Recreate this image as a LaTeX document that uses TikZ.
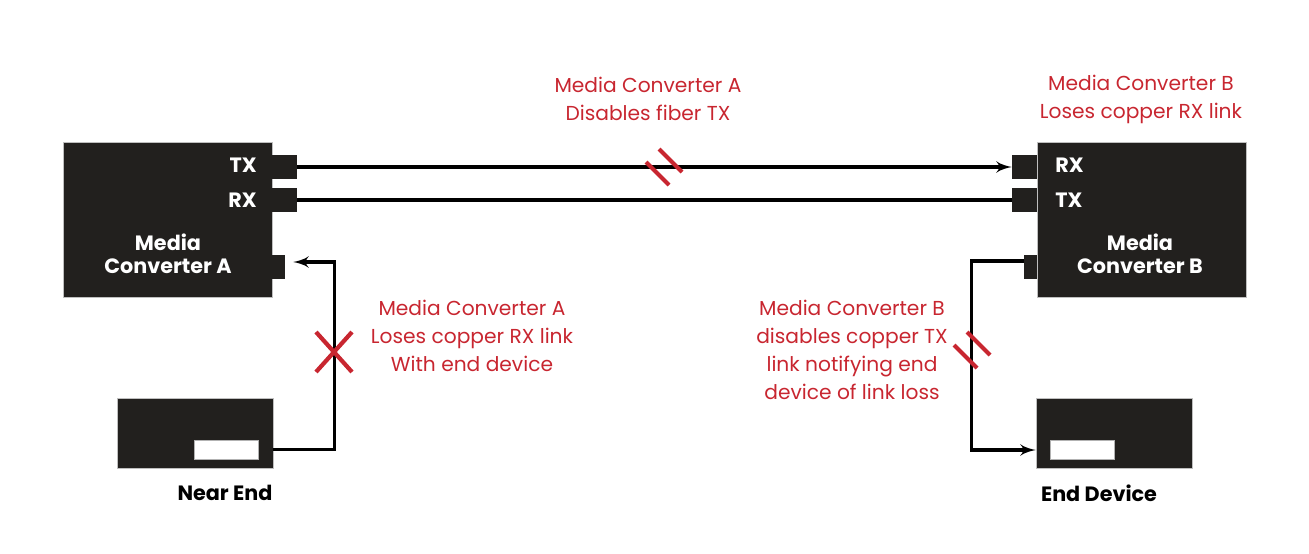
\documentclass[tikz,border=0pt]{standalone}
\usepackage{fontspec}
\setmainfont{Poppins}
\usetikzlibrary{arrows,calc,positioning}
\definecolor{alarm}{RGB}{200,38,48}
\definecolor{boxgray}{RGB}{34,32,30}
\tikzstyle{line} = [draw, line width=2pt, -latex']
\tikzstyle{wire} = [draw, line width=2pt]
\tikzstyle{slash} = [draw=alarm, line width=2.4pt]
\tikzstyle{unit} = [draw=gray!50, fill=boxgray, rectangle, inner sep=0pt, minimum width=4.18cm, minimum height=3.1cm]
\tikzstyle{device} = [draw=gray!50, fill=boxgray, rectangle, inner sep=0pt, minimum width=3.12cm, minimum height=1.4cm]
\tikzstyle{slot} = [draw=gray!60, fill=white, rectangle, inner sep=0pt, minimum width=1.28cm, minimum height=0.38cm]
\tikzstyle{port} = [fill=boxgray, rectangle, inner sep=0pt, minimum width=0.5cm, minimum height=0.48cm]
\tikzstyle{jack} = [fill=boxgray, rectangle, inner sep=0pt, minimum width=0.26cm, minimum height=0.48cm]
\tikzstyle{tag} = [text=white, inner sep=0pt, font=\bfseries\fontsize{11.8}{13}\selectfont]
\tikzstyle{unitname} = [text=white, align=center, inner sep=0pt, font=\bfseries\fontsize{11.8}{13}\selectfont]
\tikzstyle{caption} = [inner sep=0pt, font=\bfseries\fontsize{11.8}{13}\selectfont]
\tikzstyle{note} = [text=alarm, align=center, inner sep=0pt, font=\fontsize{11.5}{15.9}\selectfont]
\begin{document}
\begin{tikzpicture}[x=0.02cm, y=-0.02cm]
        \useasboundingbox (0,0) rectangle (1309,554);
        \node[unit] (mca) at (167.5,219.5) {};
        \node[unit] (mcb) at (1141.5,219.5) {};
        \node[device] (near) at (195,433) {};
        \node[device] (edev) at (1114,433.5) {};
        \node[slot] (nslot) at (226,449.5) {};
        \node[slot] (eslot) at (1082.5,450) {};
        \node[port] (atx) at (284.5,167) {};
        \node[port] (arx) at (284.5,200) {};
        \node[jack] (acu) at (278.5,267) {};
        \node[port] (brx) at (1024.5,167) {};
        \node[port] (btx) at (1024.5,200) {};
        \node[jack] (bcu) at (1030.5,267) {};
        \node[tag, anchor=east] at (257,165) {TX};
        \node[tag, anchor=east] at (257,200) {RX};
        \node[tag, anchor=west] at (1055,165) {RX};
        \node[tag, anchor=west] at (1055,200) {TX};
        \node[unitname] at (168,253.5) {Media\\Converter A};
        \node[unitname] at (1140,253.5) {Media\\Converter B};
        \node[caption] (nearcap) at (225,493) {Near End};
        \node[caption] (edevcap) at (1099,493) {End Device};
        \node[note] (n1) at (648,99) {Media Converter A\\Disables fiber TX};
        \node[note] (n2) at (1141,99) {Media Converter B\\Loses copper RX link};
        \node[note] (n3) at (472,336) {Media Converter A\\Loses copper RX link\\With end device};
        \node[note] (n4) at (852,350) {Media Converter B\\disables copper TX\\link notifying end\\device of link loss};
        \path[line] (atx.east) -- (brx.west);
        \path[wire] (arx.east) -- (btx.west);
        \path[line] (near.east |- nslot.center) -| ($(acu.east)+(49,-5)$) -- ($(acu.east)+(8,-5)$);
        \path[line] ($(bcu.west)+(0,-6)$) -- ($(bcu.west)+(-52,-6)$) |- (edev.west |- eslot.center);
        \coordinate (fcut) at (664,167);
        \coordinate (ccut) at (972,350);
        \coordinate (xcut) at (334,352);
        \foreach \c in {fcut,ccut} {
            \path[slash] ($(\c)+(-18,-5)$) -- ($(\c)+(5,18)$);
            \path[slash] ($(\c)+(-5,-18)$) -- ($(\c)+(18,5)$);
        }
        \path[slash] ($(xcut)+(-18,-20)$) -- ($(xcut)+(18,20)$);
        \path[slash] ($(xcut)+(-18,20)$) -- ($(xcut)+(18,-20)$);
    \end{tikzpicture}
\end{document}
